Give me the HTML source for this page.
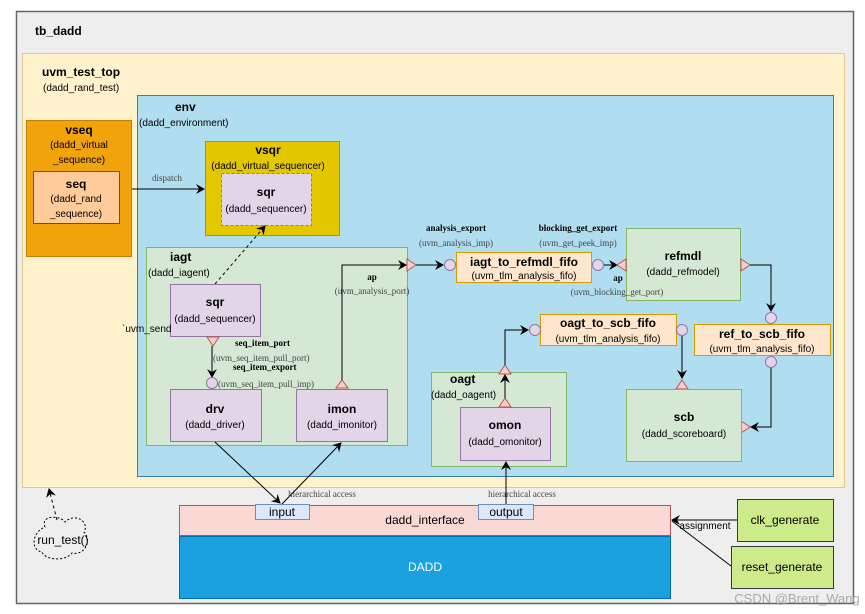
<!DOCTYPE html>
<html><head><meta charset="utf-8"><style>
body{margin:0;background:#fff}
svg{display:block;font-family:"Liberation Sans",sans-serif}
.b{font-weight:bold;font-size:12px}
.s{font-size:10px}
.sf{font-family:"Liberation Serif",serif;font-size:9px;fill:#444}
.sfb{font-family:"Liberation Serif",serif;font-size:9px;font-weight:bold}
</style></head><body>
<svg width="865" height="614" viewBox="0 0 865 614">
<defs>
<marker id="a" markerWidth="10" markerHeight="10" refX="8" refY="5" orient="auto" markerUnits="userSpaceOnUse"><path d="M0,0 L9,5 L0,10 L3,5 z" fill="#000"/></marker>
</defs>
<rect width="865" height="614" fill="#fff"/>
<rect x="16.5" y="11.5" width="837" height="592" fill="#eeeeee" stroke="#666" stroke-width="1.5"/>
<text x="35" y="35" class="b">tb_dadd</text>
<rect x="22.5" y="53.5" width="822" height="434" fill="#fff2cc" stroke="#e0c98a"/>
<text x="42" y="76" class="b">uvm_test_top</text>
<text x="43" y="91" class="s">(dadd_rand_test)</text>
<rect x="137.5" y="95.5" width="696" height="381" fill="#b1ddf0" stroke="#3a7fa5"/>
<text x="175" y="111" class="b">env</text>
<text x="139" y="126" class="s">(dadd_environment)</text>
<!-- vseq -->
<rect x="26.5" y="120.5" width="105" height="136" fill="#f0a30a" stroke="#c77c00"/>
<text x="79" y="134" class="b" text-anchor="middle">vseq</text>
<text x="79" y="148" class="s" text-anchor="middle">(dadd_virtual</text>
<text x="79" y="163" class="s" text-anchor="middle">_sequence)</text>
<rect x="33.5" y="171.5" width="86" height="52" fill="#ffcc99" stroke="#555"/>
<text x="76" y="188" class="b" text-anchor="middle">seq</text>
<text x="76" y="202" class="s" text-anchor="middle">(dadd_rand</text>
<text x="76" y="217" class="s" text-anchor="middle">_sequence)</text>
<line x1="132" y1="189" x2="204" y2="189" stroke="#000" marker-end="url(#a)"/>
<text x="167" y="181" class="sf" text-anchor="middle">dispatch</text>
<!-- vsqr -->
<rect x="205.5" y="141.5" width="134" height="94" fill="#e3c800" stroke="#b09500"/>
<text x="268" y="154" class="b" text-anchor="middle">vsqr</text>
<text x="268" y="169" class="s" text-anchor="middle">(dadd_virtual_sequencer)</text>
<rect x="221.5" y="173.5" width="90" height="52" fill="#e1d5e7" stroke="#9673a6" stroke-dasharray="3,2"/>
<text x="266" y="196" class="b" text-anchor="middle">sqr</text>
<text x="266" y="212" class="s" text-anchor="middle">(dadd_sequencer)</text>
<!-- iagt -->
<rect x="146.5" y="247.5" width="261" height="198" fill="#d5e8d4" stroke="#82b366"/>
<text x="170" y="261" class="b">iagt</text>
<text x="148" y="276" class="s">(dadd_iagent)</text>
<line x1="215" y1="284" x2="265" y2="226" stroke="#000" stroke-dasharray="3,3" marker-end="url(#a)"/>
<rect x="170.5" y="284.5" width="90" height="52" fill="#e1d5e7" stroke="#9673a6"/>
<text x="215" y="306" class="b" text-anchor="middle">sqr</text>
<text x="215" y="322" class="s" text-anchor="middle">(dadd_sequencer)</text>
<text x="122" y="332" class="s">`uvm_send</text>
<rect x="170.5" y="389.5" width="91" height="52" fill="#e1d5e7" stroke="#9673a6"/>
<text x="215" y="413" class="b" text-anchor="middle">drv</text>
<text x="215" y="428" class="s" text-anchor="middle">(dadd_driver)</text>
<rect x="296.5" y="389.5" width="91" height="52" fill="#e1d5e7" stroke="#9673a6"/>
<text x="342" y="413" class="b" text-anchor="middle">imon</text>
<text x="342" y="428" class="s" text-anchor="middle">(dadd_imonitor)</text>
<path d="M207,337 L219,337 L213,346 z" fill="#f8cecc" stroke="#b85450"/>
<line x1="212" y1="346" x2="212" y2="377" stroke="#000" marker-end="url(#a)"/>
<circle cx="212" cy="383" r="5.5" fill="#e1d5e7" stroke="#9673a6"/>
<text x="235" y="346" class="sfb">seq_item_port</text>
<text x="213" y="361" class="sf">(uvm_seq_item_pull_port)</text>
<text x="233" y="370" class="sfb">seq_item_export</text>
<text x="218" y="387" class="sf">(uvm_seq_item_pull_imp)</text>
<path d="M336,388 L348,388 L342,380 z" fill="#f8cecc" stroke="#b85450"/>
<polyline points="342,380 342,265 406,265" fill="none" stroke="#000" marker-end="url(#a)"/>
<text x="372" y="280" class="sfb" text-anchor="middle">ap</text>
<text x="372" y="294" class="sf" text-anchor="middle">(uvm_analysis_port)</text>
<!-- iagt_to_refmdl -->
<path d="M407,259 L407,271 L416,265 z" fill="#f8cecc" stroke="#b85450"/>
<line x1="416" y1="265" x2="443" y2="265" stroke="#000" marker-end="url(#a)"/>
<circle cx="450" cy="265" r="5.5" fill="#e1d5e7" stroke="#9673a6"/>
<text x="456" y="231" class="sfb" text-anchor="middle">analysis_export</text>
<text x="456" y="246" class="sf" text-anchor="middle">(uvm_analysis_imp)</text>
<rect x="456.5" y="252.5" width="135" height="30" fill="#ffe6cc" stroke="#d79b00"/>
<text x="524" y="266" class="b" text-anchor="middle">iagt_to_refmdl_fifo</text>
<text x="524" y="279" class="s" text-anchor="middle">(uvm_tlm_analysis_fifo)</text>
<circle cx="598" cy="265" r="5.5" fill="#e1d5e7" stroke="#9673a6"/>
<text x="578" y="231" class="sfb" text-anchor="middle">blocking_get_export</text>
<text x="578" y="246" class="sf" text-anchor="middle">(uvm_get_peek_imp)</text>
<line x1="604" y1="265" x2="617" y2="265" stroke="#000" marker-end="url(#a)"/>
<rect x="626.5" y="228.5" width="114" height="72" fill="#d5e8d4" stroke="#82b366"/>
<path d="M626,259 L626,271 L617,265 z" fill="#f8cecc" stroke="#b85450"/>
<text x="618" y="281" class="sfb" text-anchor="middle">ap</text>
<text x="617" y="295" class="sf" text-anchor="middle">(uvm_blocking_get_port)</text>
<text x="683" y="260" class="b" text-anchor="middle">refmdl</text>
<text x="683" y="275" class="s" text-anchor="middle">(dadd_refmodel)</text>
<path d="M741,259 L741,271 L750,265 z" fill="#f8cecc" stroke="#b85450"/>
<polyline points="750,265 771,265 771,311" fill="none" stroke="#000" marker-end="url(#a)"/>
<circle cx="771" cy="318" r="5.5" fill="#e1d5e7" stroke="#9673a6"/>
<rect x="694.5" y="324.5" width="136" height="31" fill="#ffe6cc" stroke="#d79b00"/>
<text x="762" y="338" class="b" text-anchor="middle">ref_to_scb_fifo</text>
<text x="762" y="352" class="s" text-anchor="middle">(uvm_tlm_analysis_fifo)</text>
<circle cx="771" cy="362" r="5.5" fill="#e1d5e7" stroke="#9673a6"/>
<polyline points="771,368 771,427 751,427" fill="none" stroke="#000" marker-end="url(#a)"/>
<path d="M741,421 L741,433 L750,427 z" fill="#f8cecc" stroke="#b85450"/>
<!-- oagt -->
<rect x="540.5" y="314.5" width="136" height="31" fill="#ffe6cc" stroke="#d79b00"/>
<text x="608" y="327" class="b" text-anchor="middle">oagt_to_scb_fifo</text>
<text x="608" y="342" class="s" text-anchor="middle">(uvm_tlm_analysis_fifo)</text>
<circle cx="535" cy="330" r="5.5" fill="#e1d5e7" stroke="#9673a6"/>
<circle cx="682" cy="330" r="5.5" fill="#e1d5e7" stroke="#9673a6"/>
<line x1="682" y1="336" x2="682" y2="378" stroke="#000" marker-end="url(#a)"/>
<path d="M676,389 L688,389 L682,380 z" fill="#f8cecc" stroke="#b85450"/>
<rect x="626.5" y="389.5" width="115" height="72" fill="#d5e8d4" stroke="#82b366"/>
<text x="684" y="421" class="b" text-anchor="middle">scb</text>
<text x="684" y="437" class="s" text-anchor="middle">(dadd_scoreboard)</text>
<rect x="431.5" y="372.5" width="135" height="94" fill="#d5e8d4" stroke="#82b366"/>
<text x="450" y="383" class="b">oagt</text>
<text x="431" y="398" class="s">(dadd_oagent)</text>
<rect x="460.5" y="407.5" width="90" height="53" fill="#e1d5e7" stroke="#9673a6"/>
<text x="505" y="429" class="b" text-anchor="middle">omon</text>
<text x="505" y="445" class="s" text-anchor="middle">(dadd_omonitor)</text>
<path d="M499,407 L511,407 L505,398 z" fill="#f8cecc" stroke="#b85450"/>
<line x1="505" y1="398" x2="505" y2="375" stroke="#000" marker-end="url(#a)"/>
<path d="M499,374 L511,374 L505,365 z" fill="#f8cecc" stroke="#b85450"/>
<polyline points="505,365 505,330 528,330" fill="none" stroke="#000" marker-end="url(#a)"/>
<!-- bottom -->
<rect x="179.5" y="505.5" width="491" height="30" fill="#fad9d5" stroke="#b85450"/>
<text x="425" y="524" font-size="12" text-anchor="middle">dadd_interface</text>
<rect x="179.5" y="536.5" width="491" height="62" fill="#1ba1e2" stroke="#006eaf"/>
<text x="425" y="571" font-size="12" fill="#fff" text-anchor="middle">DADD</text>
<rect x="255.5" y="504.5" width="54" height="15" fill="#dae8fc" stroke="#6c8ebf"/>
<text x="282" y="516" font-size="12" text-anchor="middle">input</text>
<rect x="478.5" y="504.5" width="55" height="15" fill="#dae8fc" stroke="#6c8ebf"/>
<text x="506" y="516" font-size="12" text-anchor="middle">output</text>
<line x1="215" y1="442" x2="280" y2="503" stroke="#000" marker-end="url(#a)"/>
<line x1="282" y1="504" x2="341" y2="443" stroke="#000" marker-end="url(#a)"/>
<line x1="506" y1="504" x2="506" y2="462" stroke="#000" marker-end="url(#a)"/>
<text x="322" y="497" class="sf" text-anchor="middle">hierarchical access</text>
<text x="522" y="497" class="sf" text-anchor="middle">hierarchical access</text>
<rect x="737.5" y="499.5" width="96" height="42" fill="#cdeb8b" stroke="#36393d"/>
<text x="785" y="524" font-size="12" text-anchor="middle">clk_generate</text>
<rect x="731.5" y="546.5" width="102" height="42" fill="#cdeb8b" stroke="#36393d"/>
<text x="782" y="571" font-size="12" text-anchor="middle">reset_generate</text>
<line x1="737" y1="520" x2="672" y2="520" stroke="#000" marker-end="url(#a)"/>
<line x1="731" y1="566" x2="672" y2="521" stroke="#000"/>
<text x="705" y="529" font-size="10" text-anchor="middle">assignment</text>
<path d="M45,527 C40,515 60,515 65,522 C75,512 90,522 84,532 C92,540 85,556 72,553 C65,562 45,560 42,552 C30,550 32,532 45,527 z" fill="none" stroke="#000" stroke-dasharray="2,2"/>
<text x="63" y="544" font-size="12" text-anchor="middle">run_test()</text>
<line x1="57" y1="520" x2="49" y2="489" stroke="#000" stroke-dasharray="3,3" marker-end="url(#a)"/>
<text x="797" y="603" font-size="13" fill="#aaa" text-anchor="middle">CSDN @Brent_Wang</text>
</svg>
</body></html>
